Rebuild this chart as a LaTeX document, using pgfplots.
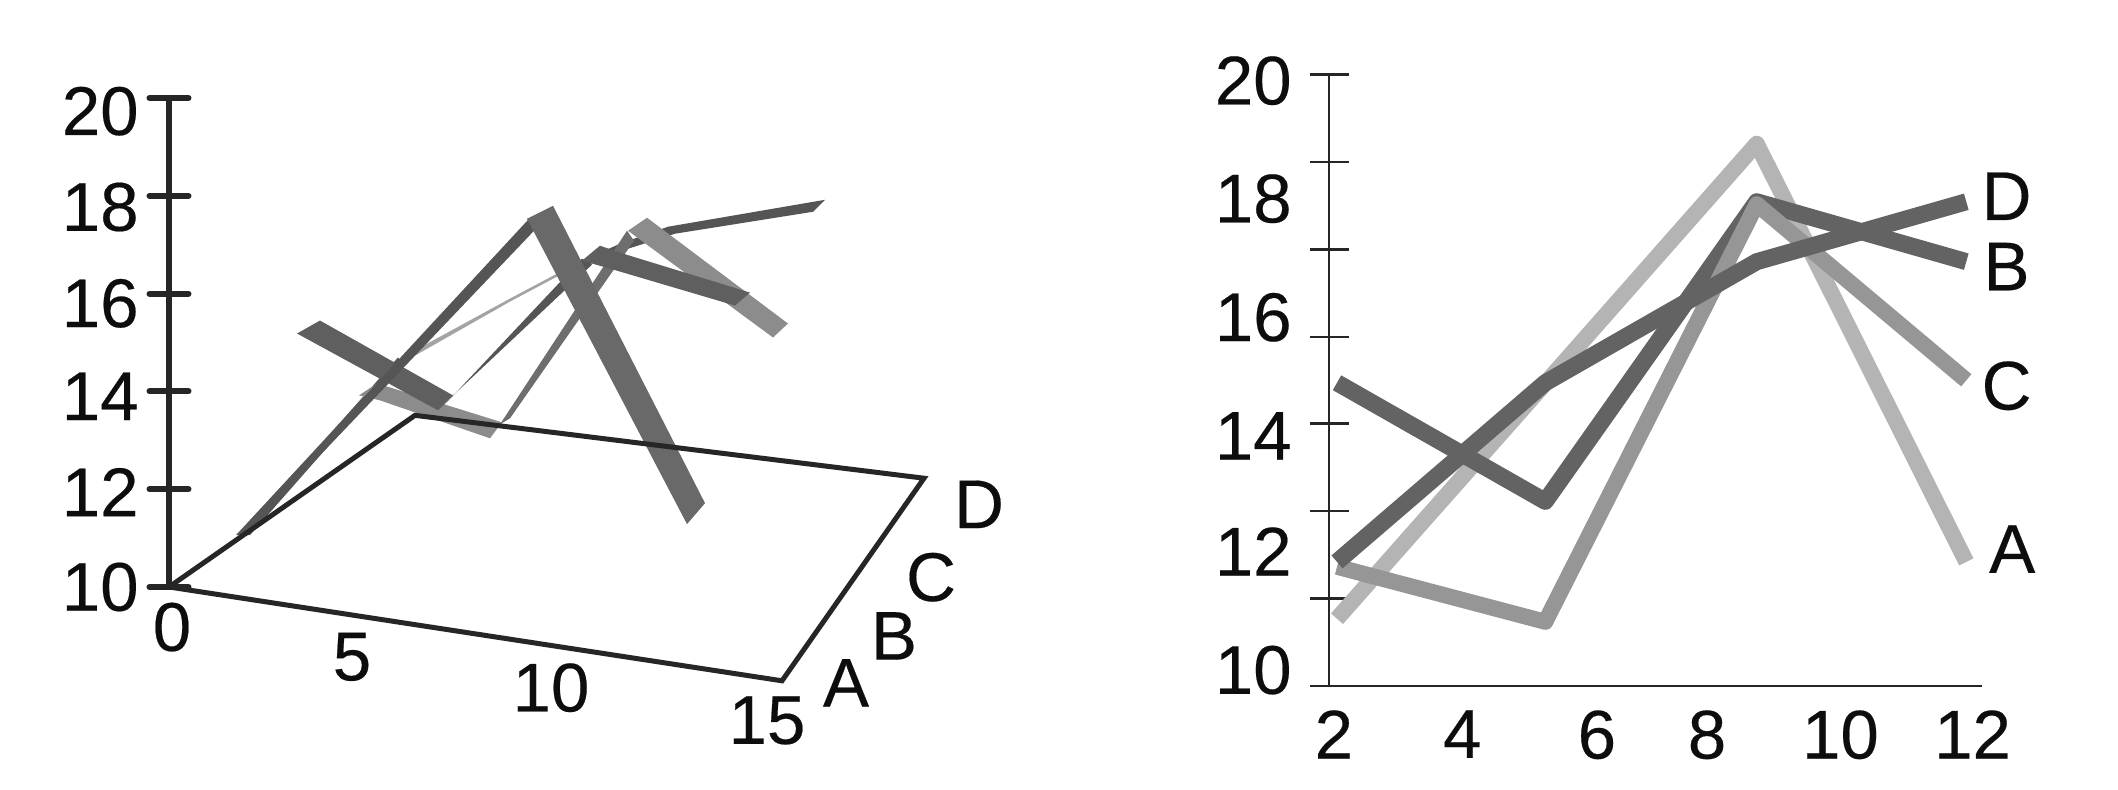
\documentclass[border=0pt]{standalone}
\usepackage{fontspec}
\setmainfont[FakeBold=0.3]{Liberation Sans}
\usepackage{pgfplots}
\pgfplotsset{compat=1.18}

\definecolor{lightA}{HTML}{B4B4B4}
\definecolor{midC}{HTML}{969696}
\definecolor{darkBD}{HTML}{636363}
\definecolor{ribA}{HTML}{696969}
\definecolor{ribB}{HTML}{5F5F5F}
\definecolor{ribC}{HTML}{8C8C8C}
\definecolor{ribD}{HTML}{555555}
\definecolor{frame}{HTML}{262626}

\tikzset{lab/.style={font=\fontsize{34.5}{36}\selectfont, text=black!95, inner sep=0pt}}
\pgfplotsset{
  base/.style={
    scale only axis, clip=false, anchor=south west,
    tick label style={font=\fontsize{34.5}{36}\selectfont, text=black!95, inner sep=0pt},
    tick align=center,
    yticklabel=\empty,
    extra tick style={major tick length=0pt},
  },
  % left panel: oblique view, x and y in pixels
  rib/.style={draw=none, fill=#1, y filter/.expression={10+(587-y)/49}},
  floor/.style={draw=frame, line width=2.5pt, line join=miter, y filter/.expression={10+(587-y)/49}},
  ser/.style={draw=#1, line join=round},
}

\begin{document}
\begin{tikzpicture}
\path[use as bounding box] (0,0) rectangle (1059pt,395pt);

\begin{axis}[base,
  at={(84.5pt,101.5pt)}, width=377.5pt, height=244.5pt,
  xmin=169, xmax=924, ymin=10, ymax=20,
  axis x line=none, axis y line=left,
  y axis line style={-, draw=frame, line width=3pt},
  ytick={10,12,14,16,18,20},
  major tick length=19.5pt,
  tick style={draw=frame, line width=3pt, line cap=round},
  extra y ticks={10,11.94,13.9,15.8,17.77,19.73},
  extra y tick labels={10,12,14,16,18,20},
  yticklabel style={xshift=-15pt},
]
% D
\addplot[rib=ribD] coordinates {(240,535)(398,357)(402,362)(250,535)};
\addplot[rib=ribC!80!white] coordinates {(400,358)(510,298)(557,273)(557,276)(510,301)(403,362)};
\addplot[rib=ribD] coordinates {(578,262)(620,243)(668,226)(825,199)(813,211)(675,233)(622,250)(584,266)};
% C
\addplot[rib=ribC] coordinates {(359,395)(377,383)(502,422)(490,438)(380,400)};
\addplot[rib=ribD!85!white] coordinates {(500,424)(510,418)(634,240)(627,230)};
\addplot[rib=ribC] coordinates {(628,230)(647,217)(788,323)(773,337)};
% B
\addplot[rib=ribB] coordinates {(297,333)(320,320)(453,395)(438,410)};
\addplot[rib=ribD] coordinates {(443,406)(582,258)(592,264)(453,395)};
\addplot[rib=ribB] coordinates {(582,260)(600,245)(620,252)(750,292)(735,305)(610,268)};
% A
\addplot[rib=ribD] coordinates {(236,535)(530,217)(536,228)(244,535)};
\addplot[rib=ribA] coordinates {(527,218)(553,205)(705,503)(687,524)};
% floor of the box
\addplot[floor] coordinates {(169,587)(415,415)(924,478)(782,681)(169,587)};

\node[lab] at (axis cs:172,9.18) {0};
\node[lab] at (axis cs:352,8.57) {5};
\node[lab] at (axis cs:551,7.94) {10};
\node[lab] at (axis cs:767,7.27) {15};
\node[lab] at (axis cs:846,8.04) {A};
\node[lab] at (axis cs:894,9.0) {B};
\node[lab] at (axis cs:931,10.2) {C};
\node[lab] at (axis cs:979,11.69) {D};
\end{axis}

\begin{axis}[base,
  at={(664.5pt,52pt)}, width=326.5pt, height=305.7pt,
  xmin=1.873, xmax=12.25, ymin=10, ymax=20,
  axis x line=bottom, axis y line=left,
  x axis line style={-, draw=frame, line width=1.25pt},
  y axis line style={-, draw=frame, line width=1.25pt},
  ytick={10,11.43,12.86,14.29,15.71,17.14,18.57,20},
  xtick=\empty,
  major tick length=19.5pt,
  tick style={draw=frame, line width=1.25pt},
  extra y ticks={10.26,12.2,14.09,16.03,17.97,19.9},
  extra y tick labels={10,12,14,16,18,20},
  yticklabel style={xshift=-18.5pt},
  extra x ticks={1.95,3.99,6.13,7.88,10,12.1},
  extra x tick labels={2,4,6,8,10,12},
  xticklabel style={yshift=-12pt},
]
\addplot[ser=lightA, line width=8pt] coordinates {(2,11.1) (5.31,14.95) (8.67,18.87) (12,12.03)};
\addplot[ser=darkBD, line width=8.5pt] coordinates {(2,14.96) (5.31,13.02) (8.67,17.92) (12,16.94)};
\addplot[ser=midC, line width=8pt] coordinates {(2,11.95) (5.31,11.05) (8.67,17.88) (12,15)};
\addplot[ser=darkBD, line width=8.5pt] coordinates {(2,12.03) (5.31,14.96) (8.67,16.94) (12,17.92)};

\node[lab] at (axis cs:12.73,12.24) {A};
\node[lab] at (axis cs:12.64,16.86) {B};
\node[lab] at (axis cs:12.64,14.91) {C};
\node[lab] at (axis cs:12.64,18.01) {D};
\end{axis}
\end{tikzpicture}
\end{document}
